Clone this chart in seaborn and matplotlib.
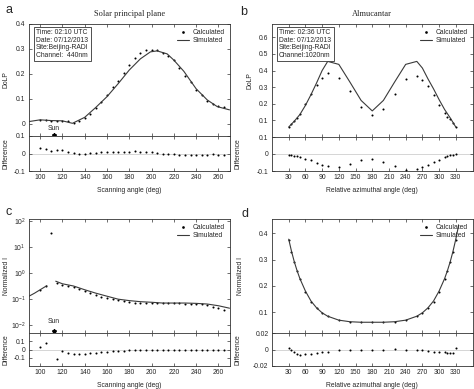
import numpy as np
import pandas as pd
import matplotlib
matplotlib.use('Agg')
import matplotlib.pyplot as plt
import seaborn as sns
from matplotlib.ticker import FuncFormatter

# ---------------- data ----------------
# (a) solar principal plane, DoLP
ppl_angle = [100, 105, 110, 115, 120, 125, 130, 135, 140, 145, 150, 155, 160, 165, 170, 175,
             180, 185, 190, 195, 200, 205, 210, 215, 220, 225, 230, 235, 240, 245, 250, 255, 260, 265]
ppl_dolp_calc = [0.013, 0.014, 0.012, 0.011, 0.011, 0.009, 0.003, 0.010, 0.022, 0.040, 0.062, 0.088,
                 0.115, 0.145, 0.172, 0.205, 0.235, 0.262, 0.282, 0.295, 0.295, 0.294, 0.282, 0.272,
                 0.255, 0.222, 0.190, 0.165, 0.135, 0.115, 0.092, 0.080, 0.070, 0.065]
ppl_dolp_diff = [0.030, 0.027, 0.017, 0.021, 0.019, 0.011, 0.002, 0.0, 0.0, 0.002, 0.002, 0.006,
                 0.008, 0.008, 0.008, 0.011, 0.011, 0.015, 0.011, 0.008, 0.006, 0.002, -0.004, -0.002,
                 0.0, -0.008, -0.008, -0.008, -0.008, -0.008, -0.006, -0.004, -0.006, -0.006]
ppl_sim_angle = [90, 100, 110, 120, 129, 140, 150, 160, 170, 180, 190, 199, 205, 214, 220,
                 229, 240, 250, 259, 270]
ppl_dolp_sim = [0.008, 0.015, 0.012, 0.011, 0.001, 0.025, 0.065, 0.108, 0.160, 0.215, 0.260,
                0.288, 0.292, 0.280, 0.255, 0.210, 0.140, 0.095, 0.068, 0.055]

# (b) almucantar, DoLP
alm_angle = [30, 35, 40, 45, 50, 60, 70, 80, 90, 100, 120, 140, 160, 180, 200, 220, 240, 260,
             270, 280, 290, 300, 310, 315, 320, 325, 330]
alm_dolp_calc = [0.060, 0.080, 0.094, 0.116, 0.140, 0.197, 0.256, 0.310, 0.357, 0.383, 0.358, 0.276,
                 0.180, 0.130, 0.168, 0.260, 0.347, 0.367, 0.343, 0.306, 0.252, 0.195, 0.145, 0.120,
                 0.106, 0.086, 0.060]
alm_dolp_diff = [-0.004, -0.008, -0.010, -0.014, -0.018, -0.027, -0.037, -0.053, -0.065, -0.070,
                 -0.075, -0.057, -0.033, -0.027, -0.047, -0.073, -0.092, -0.086, -0.076, -0.063,
                 -0.047, -0.033, -0.018, -0.014, -0.008, -0.004, -0.002]
alm_sim_angle = [30, 40, 50, 60, 70, 80, 90, 100, 120, 140, 160, 180, 200, 220, 240, 260,
                 270, 280, 290, 300, 310, 320, 330]
alm_dolp_sim = [0.060, 0.095, 0.135, 0.190, 0.255, 0.325, 0.400, 0.455, 0.437, 0.330, 0.220,
                0.157, 0.220, 0.330, 0.437, 0.455, 0.415, 0.350, 0.290, 0.225, 0.165, 0.115, 0.060]

# (c) solar principal plane, normalized radiance
ppl_rad_calc = [0.23, 0.33, 36.0, 0.41, 0.35, 0.33, 0.29, 0.25, 0.20, 0.17, 0.145, 0.125, 0.11,
                0.099, 0.090, 0.083, 0.076, 0.073, 0.071, 0.069, 0.069, 0.069, 0.069, 0.069, 0.069,
                0.069, 0.068, 0.068, 0.068, 0.064, 0.058, 0.052, 0.046, 0.039]
ppl_rad_diff = [0.035, 0.080, np.nan, -0.110, -0.023, -0.040, -0.050, -0.050, -0.050, -0.045, -0.040,
                -0.030, -0.025, -0.020, -0.018, -0.015, -0.012, -0.012, -0.012, -0.012, -0.012,
                -0.012, -0.012, -0.012, -0.012, -0.012, -0.012, -0.012, -0.012, -0.012, -0.012,
                -0.012, -0.012, -0.012]
rad_sim_angle_1 = [90, 95, 100, 106]
rad_sim_1 = [0.13, 0.17, 0.23, 0.33]
rad_sim_angle_2 = [114, 120, 130, 140, 150, 160, 170, 180, 190, 200, 210, 220, 230, 240, 250, 260, 270]
rad_sim_2 = [0.49, 0.39, 0.32, 0.23, 0.17, 0.13, 0.10, 0.088, 0.080, 0.076, 0.071, 0.071, 0.071,
             0.069, 0.065, 0.056, 0.045]

# (d) almucantar, normalized radiance
alm_rad_calc = [0.375, 0.330, 0.290, 0.255, 0.225, 0.178, 0.140, 0.115, 0.095, 0.083, 0.068, 0.063,
                0.061, 0.061, 0.061, 0.063, 0.068, 0.083, 0.095, 0.115, 0.140, 0.178, 0.225, 0.255,
                0.290, 0.330, 0.375]
alm_rad_diff = [0.0015, -0.0005, -0.0025, -0.006, -0.007, -0.005, -0.0055, -0.0045, -0.003, -0.0025,
                -0.001, -0.001, -0.001, -0.0005, -0.0005, 0.001, 0.0, -0.0005, -0.001, -0.002,
                -0.003, -0.0035, -0.003, -0.0045, -0.0045, -0.0045, 0.0015]
alm_rad_sim_angle = [30, 35, 40, 45, 50, 60, 70, 80, 90, 100, 120, 140, 160, 180, 200, 220, 240,
                     260, 270, 280, 290, 300, 310, 315, 320, 325, 330, 335]
alm_rad_sim = [0.378, 0.332, 0.292, 0.258, 0.228, 0.180, 0.142, 0.116, 0.097, 0.084, 0.069, 0.063,
               0.061, 0.061, 0.061, 0.063, 0.069, 0.084, 0.097, 0.116, 0.142, 0.180, 0.228, 0.258,
               0.292, 0.332, 0.378, 0.43]

sun_angle = 112

info_a = "Time: 02:10 UTC\nDate: 07/12/2013\nSite:Beijing-RADI\nChannel:  440nm"
info_b = "Time: 02:36 UTC\nDate: 07/12/2013\nSite:Beijing-RADI\nChannel:1020nm"

# ---------------- figure ----------------
sns.set_style("ticks")
plt.rcParams['font.family'] = ['Liberation Sans', 'DejaVu Sans']
plt.rcParams['xtick.direction'] = 'in'
plt.rcParams['ytick.direction'] = 'in'
plt.rcParams['xtick.top'] = True
plt.rcParams['ytick.right'] = True
plt.rcParams['axes.linewidth'] = 0.6

fs = 4.9
fig = plt.figure(figsize=(4.74, 3.89), dpi=100)

def make_axes(left, top, mid, bottom):
    h = 389.0
    w = 474.0
    ax_main = fig.add_axes([left / w, 1 - mid / h, 0.423, (mid - top) / h])
    ax_diff = fig.add_axes([left / w, 1 - bottom / h, 0.423, (bottom - mid) / h], sharex=ax_main)
    return ax_main, ax_diff

def style(ax):
    ax.tick_params(labelsize=fs, width=0.5, length=2.5, pad=2.5, color='#333333')
    for s in ax.spines.values():
        s.set_linewidth(0.6)
        s.set_color('#333333')

def plot_pair(ax_main, ax_diff, x, calc, diff, sim_segments):
    sns.scatterplot(x=x, y=calc, ax=ax_main, color='black', s=2.2, marker='o',
                    linewidth=0, label='Calculated')
    first = True
    for sx, sy in sim_segments:
        sns.lineplot(x=sx, y=sy, ax=ax_main, color='#3a3a3a', linewidth=0.8,
                     label='Simulated' if first else None)
        first = False
    sns.scatterplot(x=x, y=diff, ax=ax_diff, color='black', s=2.2, marker='o', linewidth=0)
    ax_diff.axhline(0, color='#cfcfcf', linewidth=0.6, zorder=0)
    ax_main.legend(loc='upper right', frameon=False, fontsize=fs, handlelength=1.8,
                   handletextpad=0.5, borderaxespad=0.35, labelspacing=0.15, markerscale=1.3)
    ax_main.tick_params(labelbottom=False)
    ax_main.set_xlabel('')
    style(ax_main)
    style(ax_diff)

fmt = FuncFormatter(lambda v, p: ('%g' % round(v, 3)))
title_font = dict(fontsize=6, family='Liberation Serif')
box = dict(boxstyle='square,pad=0.3', fc='white', ec='#333333', lw=0.6)

# a
axa, axa2 = make_axes(29, 24, 136, 171)
plot_pair(axa, axa2, ppl_angle, ppl_dolp_calc, ppl_dolp_diff, [(ppl_sim_angle, ppl_dolp_sim)])
axa.set_xlim(90, 270)
axa.set_ylim(-0.05, 0.4)
axa.set_yticks([0, 0.1, 0.2, 0.3, 0.4])
axa.yaxis.set_major_formatter(fmt)
axa2.set_ylim(-0.1, 0.1)
axa2.set_yticks([-0.1, 0, 0.1])
axa2.yaxis.set_major_formatter(fmt)
axa2.set_xticks(range(100, 261, 20))
axa.set_ylabel('DoLP', fontsize=fs)
axa2.set_ylabel('Difference', fontsize=fs)
axa.yaxis.set_label_coords(-0.095, 0.5)
axa2.yaxis.set_label_coords(-0.095, 0.5)
axa2.set_xlabel('Scanning angle (deg)', fontsize=fs, labelpad=4)
axa.set_title('Solar principal plane', pad=6, **title_font)
axa.text(0.035, 0.955, info_a, transform=axa.transAxes, fontsize=fs, va='top', ha='left',
         linespacing=1.1, bbox=box)
axa.plot([sun_angle], [-0.045], marker='*', color='black', markersize=3, clip_on=False)
axa.text(sun_angle, -0.018, 'Sun', fontsize=fs, ha='center', va='center')

# b
axb, axb2 = make_axes(272, 24, 137, 171)
plot_pair(axb, axb2, alm_angle, alm_dolp_calc, alm_dolp_diff, [(alm_sim_angle, alm_dolp_sim)])
axb.set_xlim(0, 360)
axb.set_ylim(0.0, 0.68)
axb.set_yticks([0.1, 0.2, 0.3, 0.4, 0.5, 0.6])
axb.yaxis.set_major_formatter(fmt)
axb2.set_ylim(-0.1, 0.1)
axb2.set_yticks([-0.1, 0, 0.1])
axb2.yaxis.set_major_formatter(fmt)
axb2.set_xticks(range(30, 331, 30))
axb.set_ylabel('DoLP', fontsize=fs)
axb2.set_ylabel('Difference', fontsize=fs)
axb.yaxis.set_label_coords(-0.09, 0.5)
axb2.yaxis.set_label_coords(-0.15, 0.5)
axb2.set_xlabel('Relative azimuthal angle (deg)', fontsize=fs, labelpad=4)
axb.set_title('Almucantar', pad=6, **title_font)
axb.text(0.035, 0.955, info_b, transform=axb.transAxes, fontsize=fs, va='top', ha='left',
         linespacing=1.1, bbox=box)

# c
axc, axc2 = make_axes(29, 219, 333, 366)
plot_pair(axc, axc2, ppl_angle, ppl_rad_calc, ppl_rad_diff,
          [(rad_sim_angle_1, rad_sim_1), (rad_sim_angle_2, rad_sim_2)])
axc.set_yscale('log')
axc.set_xlim(90, 270)
axc.set_ylim(10 ** -2.3, 10 ** 2.08)
axc.set_yticks([1e-2, 1e-1, 1e0, 1e1, 1e2])
axc.minorticks_off()
axc2.set_ylim(-0.2, 0.2)
axc2.set_yticks([-0.1, 0, 0.1])
axc2.yaxis.set_major_formatter(fmt)
axc2.set_xticks(range(100, 261, 20))
axc.set_ylabel('Normalized I', fontsize=fs)
axc2.set_ylabel('Difference', fontsize=fs)
axc.yaxis.set_label_coords(-0.095, 0.5)
axc2.yaxis.set_label_coords(-0.095, 0.5)
axc2.set_xlabel('Scanning angle (deg)', fontsize=fs, labelpad=4)
axc.plot([sun_angle], [10 ** -2.23], marker='*', color='black', markersize=3, clip_on=False)
axc.text(sun_angle, 10 ** -1.84, 'Sun', fontsize=fs, ha='center', va='center')

# d
axd, axd2 = make_axes(272, 219, 333, 366)
plot_pair(axd, axd2, alm_angle, alm_rad_calc, alm_rad_diff, [(alm_rad_sim_angle, alm_rad_sim)])
axd.set_xlim(0, 360)
axd.set_ylim(0.02, 0.455)
axd.set_yticks([0.1, 0.2, 0.3, 0.4])
axd.yaxis.set_major_formatter(fmt)
axd2.set_ylim(-0.02, 0.02)
axd2.set_yticks([-0.02, 0, 0.02])
axd2.yaxis.set_major_formatter(fmt)
axd2.set_xticks(range(30, 331, 30))
axd.set_ylabel('Normalized I', fontsize=fs)
axd2.set_ylabel('Difference', fontsize=fs)
axd.yaxis.set_label_coords(-0.14, 0.5)
axd2.yaxis.set_label_coords(-0.15, 0.5)
axd2.set_xlabel('Relative azimuthal angle (deg)', fontsize=fs, labelpad=4)

# panel letters
for lbl, x, y in [('a', 5, 10), ('b', 240, 12), ('c', 5, 212), ('d', 242, 214)]:
    fig.text(x / 474, 1 - y / 389, lbl, fontsize=9, ha='left', va='center')

fig.savefig('out.png', dpi=100)
